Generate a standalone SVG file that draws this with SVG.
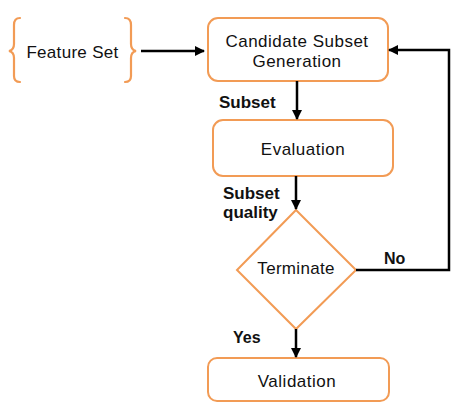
<svg xmlns="http://www.w3.org/2000/svg" width="474" height="408" viewBox="0 0 474 408">
<defs>
<style>
.box{fill:#fff;stroke:#F29B55;stroke-width:2}
.brace{fill:none;stroke:#F29B55;stroke-width:2.2;stroke-linecap:round}
.t{font-family:"Liberation Sans",Arial,sans-serif;font-size:17px;fill:#111;text-anchor:middle}
.lb{font-family:"Liberation Sans",Arial,sans-serif;font-size:17px;font-weight:bold;fill:#111}
.c{fill:none;stroke:#000;stroke-width:2.5}
</style>
<marker id="ah" markerWidth="10" markerHeight="10" viewBox="0 0 10 10" refX="9" refY="5" orient="auto" markerUnits="userSpaceOnUse">
<path d="M0,0 L10,5 L0,10 z" fill="#000"/>
</marker>
</defs>
<rect width="474" height="408" fill="#fff"/>
<g id="feature-set">
<path class="brace" d="M20,18 Q14,18 14,25 L14,44 Q14,50 9,51 Q14,52 14,58 L14,76 Q14,82 20,82"/>
<path class="brace" d="M125,18 Q131,18 131,25 L131,44 Q131,50 136,51 Q131,52 131,58 L131,76 Q131,82 125,82"/>
<text class="t" x="72.5" y="58" style="letter-spacing:0.3px">Feature Set</text>
</g>
<g id="candidate">
<rect class="box" x="208" y="18" width="180" height="63" rx="10"/>
<text class="t" x="297" y="47" style="letter-spacing:0.5px">Candidate Subset</text>
<text class="t" x="297" y="67" style="letter-spacing:0.5px">Generation</text>
</g>
<g id="evaluation">
<rect class="box" x="213" y="120" width="180" height="56" rx="10"/>
<text class="t" x="303" y="155" style="letter-spacing:0.5px">Evaluation</text>
</g>
<g id="terminate">
<polygon class="box" points="296,210 356,270 296,329 237,270"/>
<text class="t" x="296" y="274" style="letter-spacing:0.3px">Terminate</text>
</g>
<g id="validation">
<rect class="box" x="208" y="358" width="181" height="43" rx="9"/>
<text class="t" x="297" y="387" style="letter-spacing:0.5px">Validation</text>
</g>
<g id="connectors">
<line class="c" x1="141" y1="51" x2="204" y2="51" marker-end="url(#ah)"/>
<line class="c" x1="297" y1="81" x2="297" y2="119" marker-end="url(#ah)"/>
<line class="c" x1="296" y1="176" x2="296" y2="209" marker-end="url(#ah)"/>
<line class="c" x1="296" y1="329" x2="296" y2="357" marker-end="url(#ah)"/>
<polyline class="c" points="356,270 449,270 449,50 389,50" marker-end="url(#ah)"/>
<text class="lb" x="219" y="108">Subset</text>
<text class="lb" x="223" y="199">Subset</text>
<text class="lb" x="223" y="218">quality</text>
<text class="lb" x="384" y="264" style="font-size:16px">No</text>
<text class="lb" x="233" y="343" style="font-size:16px">Yes</text>
</g>
</svg>
